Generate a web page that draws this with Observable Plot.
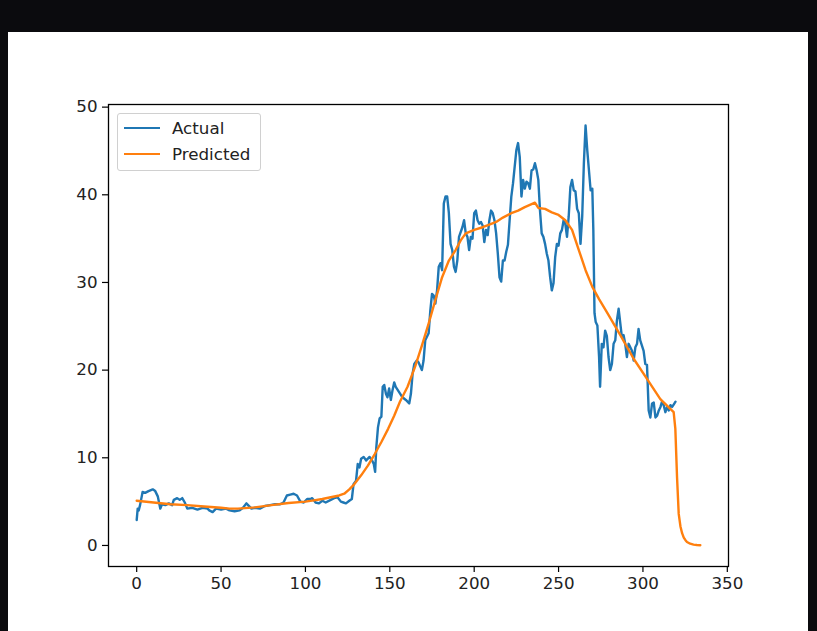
<!DOCTYPE html>
<html>
<head>
<meta charset="utf-8">
<script src="https://cdn.jsdelivr.net/npm/d3@7"></script>
<script src="https://cdn.jsdelivr.net/npm/@observablehq/plot@0.6"></script>
<style>
  html, body { margin: 0; padding: 0; }
  body { width: 817px; height: 631px; background: #0b0b0e; position: relative; overflow: hidden; font-family: "DejaVu Sans", sans-serif; }
  #panel { position: absolute; left: 8px; top: 32px; width: 800px; height: 599px; background: #fff; }
  #panel svg { display: block; }
  #legend { position: absolute; left: 109px; top: 81px; width: 142px; height: 56px; border: 1px solid #d0d0d0; border-radius: 3px; background: rgba(255,255,255,0.8); }
  .sw { position: absolute; left: 6px; width: 36px; height: 2.5px; }
  .lt { position: absolute; left: 54px; font-size: 16.7px; line-height: 20px; color: #222; white-space: nowrap; }
</style>
</head>
<body>
<div id="panel"><div id="legend"></div></div>
<script>
// ---- data ----
const seriesNames = ["Actual", "Predicted"];
const seriesColors = ["#1f77b4", "#ff7f0e"];
const xTicks = [0, 50, 100, 150, 200, 250, 300, 350];
const yTicks = [0, 10, 20, 30, 40, 50];

const actualX = [
  0, 0.6, 1.2, 2, 3, 3.5, 5, 7, 9.5, 11, 12.5, 14, 15, 17, 19, 21, 22, 24, 25.5, 27, 28.5, 30, 33, 36, 39, 42, 43, 45, 47, 50, 53, 55,
  58, 61, 63, 65, 67, 68, 70, 73, 76, 79, 82, 85, 87, 89, 91, 93, 95, 97, 99, 101, 103, 104, 106, 108, 110,
  112, 115, 117, 119, 121, 122.5, 124, 126, 127.5, 128.5, 130, 131, 132, 133, 134.5, 136, 138, 139.5, 140.5, 141.3, 142, 143, 144, 145, 145.8, 146.7, 147.7, 148.6, 149.6, 150.6, 151.6, 152.6, 153.5, 155.5, 157.5, 159.5, 161.5, 162.5, 163.5, 164.5, 166,
  167, 169, 170, 171, 173, 174, 175, 176, 177, 178, 179, 180, 181, 182, 183, 184, 185, 186, 187, 188, 189, 190, 191, 193, 194, 195, 196, 197, 198, 199, 200, 201, 202, 203, 204, 205, 206, 207, 208, 209, 210, 211, 212, 213, 214, 215, 216, 217, 218, 219, 220, 221,
  222, 223, 224, 225, 226, 227, 228, 229, 230, 231, 232, 233, 234, 235, 236, 237, 238, 239, 240, 241, 242, 243, 244, 245, 246, 247, 248, 249, 250, 251, 252, 253, 254, 255, 256, 257, 258, 259, 260, 261, 262, 263, 264, 265, 266, 267, 268, 269, 270, 270.6,
  271.3, 272, 273, 274, 274.6, 275.6, 276.6, 277.6, 278.6, 279.6, 280.6, 281.6, 282.6, 283.6, 284.6, 285.6, 286.6, 287.5, 288.5, 289.5, 290.5, 291.5, 292.5, 293.5, 294.5, 295.5, 296.5, 297.4, 298.4, 299.4, 300.4, 301.4, 302.4, 303.4, 304.4, 305.4, 306.4, 307.4, 308.4, 309.4, 310.4, 311.3, 312.3, 313.3, 314.3, 315.3, 316.3, 317.3, 318.3, 319.3
];
const actualY = [
  2.9, 4.2, 4.0, 4.6, 5.6, 6.1, 6.0, 6.2, 6.4, 6.2, 5.6, 4.2, 4.7, 4.6, 4.8, 4.6, 5.2, 5.4, 5.2, 5.4, 4.9, 4.2, 4.3, 4.1, 4.3, 4.2, 4.0, 3.8, 4.2, 4.1, 4.2, 4.0,
  3.9, 4.0, 4.3, 4.8, 4.4, 4.2, 4.3, 4.2, 4.5, 4.6, 4.7, 4.7, 4.9, 5.7, 5.8, 5.9, 5.7, 5.0, 4.9, 5.3, 5.3, 5.4, 4.9, 4.8, 5.1,
  4.9, 5.2, 5.4, 5.5, 5.0, 4.9, 4.8, 5.1, 5.3, 7.0, 7.4, 9.3, 8.9, 9.9, 10.1, 9.7, 10.1, 9.7, 9.3, 8.4, 11.2, 13.5, 14.5, 14.7, 18.1, 18.3, 17.3, 16.9, 17.9, 16.6, 17.7, 18.6, 18.1, 17.5, 16.9, 16.6, 16.2, 17.3, 19.6, 20.7, 21.1,
  20.9, 20.0, 21.1, 23.4, 24.2, 26.8, 28.7, 28.5, 27.6, 29.1, 31.8, 32.2, 31.4, 39.0, 39.8, 39.8, 37.9, 34.4, 33.7, 31.8, 31.2, 32.5, 35.2, 36.3, 37.1, 35.6, 35.2, 33.7, 35.2, 35.0, 37.9, 38.2, 37.1, 36.7, 36.9, 36.5, 34.6, 36.0, 35.4, 37.1, 38.2, 37.9, 37.1, 35.6, 33.3, 30.6, 30.1, 32.5, 32.5, 33.5, 34.3, 37.1,
  39.8, 41.3, 43.2, 45.1, 45.9, 44.3, 39.8, 41.7, 40.7, 41.5, 41.3, 40.7, 42.8, 42.9, 43.6, 42.8, 41.7, 38.2, 35.6, 35.2, 34.4, 33.3, 32.5, 30.6, 29.1, 29.9, 32.9, 34.4, 34.2, 35.6, 36.0, 37.1, 36.7, 35.2, 37.5, 40.9, 41.7, 40.5, 40.4, 38.4, 37.9, 34.4, 37.5, 43.6, 47.9, 45.1, 42.8, 40.5, 40.7, 36.0,
  26.5, 25.5, 25.1, 21.5, 18.1, 23.0, 22.6, 24.5, 23.9, 21.5, 20.0, 20.7, 23.0, 23.4, 25.7, 27.0, 25.3, 23.8, 24.0, 23.0, 21.5, 23.0, 22.6, 22.2, 21.1, 22.6, 23.0, 24.7, 23.4, 22.8, 22.2, 20.7, 20.6, 15.4, 14.6, 16.2, 16.3, 14.6, 14.8, 15.4, 15.8, 16.4, 16.0, 15.2, 15.8, 15.4, 16.0, 15.8, 16.1, 16.4
];

const predX = [
  0, 10, 20, 30, 40, 50, 55, 60, 70, 80, 90, 100, 105, 110, 115, 120, 123, 126, 129, 133, 137, 141, 145, 149, 152.6, 156, 160.5, 165, 169, 173, 177, 181, 185, 189, 192, 195, 200, 205, 209, 213, 217,
  222, 226, 230, 236, 238, 242, 246, 250, 254, 258, 262, 266, 270, 274, 278.7, 286.6, 294.5, 302.4, 310.3, 318.2,
  319.2, 320.2, 321.2, 322.2, 323.2, 324.2, 325.2, 326.1, 328, 330, 332, 334
];
const predY = [
  5.1, 4.9, 4.7, 4.6, 4.45, 4.3, 4.2, 4.2, 4.35, 4.6, 4.85, 5.0, 5.15, 5.3, 5.5, 5.7, 5.9, 6.4, 7.0, 8.0, 9.1, 10.4, 11.8, 13.3, 14.8, 16.4, 18.1, 20.4, 22.8, 25.3, 28.0, 30.6, 32.5, 33.7, 34.8, 35.6, 36.0, 36.3, 36.6, 36.9, 37.4,
  37.9, 38.2, 38.6, 39.1, 38.5, 38.4, 38.0, 37.7, 37.1, 36.0, 33.7, 31.4, 29.5, 28.1, 26.6, 24.0, 21.3, 19.0, 16.7, 15.2,
  13.3, 7.8, 3.6, 2.2, 1.4, 0.9, 0.6, 0.4, 0.2, 0.1, 0.05, 0.03
];

// ---- build tables ----
const actual = actualX.map((x, i) => ({x, y: actualY[i]}));
const pred = predX.map((x, i) => ({x, y: predY[i]}));

const chart = Plot.plot({
  width: 800,
  height: 599,
  marginLeft: 100,
  marginRight: 80,
  marginTop: 72,
  marginBottom: 65,
  x: {domain: [-16.7, 350.7]},
  y: {domain: [-2.4, 50.3]},
  style: {background: "white", color: "#222", fontFamily: "DejaVu Sans, sans-serif", fontSize: "16.7px"},
  marks: [
    Plot.line(actual, {x: "x", y: "y", stroke: seriesColors[0], strokeWidth: 2.4, strokeLinejoin: "round"}),
    Plot.line(pred, {x: "x", y: "y", stroke: seriesColors[1], strokeWidth: 2.4, strokeLinejoin: "round"}),
    Plot.frame({stroke: "#000", strokeWidth: 1.3}),
    Plot.axisX({ticks: xTicks, tickSize: 6, tickPadding: 5, label: null, fontSize: 16.7, stroke: "#000", strokeWidth: 1.2}),
    Plot.axisY({ticks: yTicks, tickSize: 6, tickPadding: 5, label: null, fontSize: 16.7, stroke: "#000", strokeWidth: 1.2})
  ]
});
document.getElementById("panel").insertBefore(chart, document.getElementById("legend"));

// ---- legend ----
const legend = document.getElementById("legend");
seriesNames.forEach((name, i) => {
  const cy = 14 + i * 26;
  const sw = document.createElement("div");
  sw.className = "sw";
  sw.style.top = (cy - 1.25) + "px";
  sw.style.background = seriesColors[i];
  legend.appendChild(sw);
  const t = document.createElement("div");
  t.className = "lt";
  t.style.top = (cy - 10) + "px";
  t.textContent = name;
  legend.appendChild(t);
});
</script>
</body>
</html>
